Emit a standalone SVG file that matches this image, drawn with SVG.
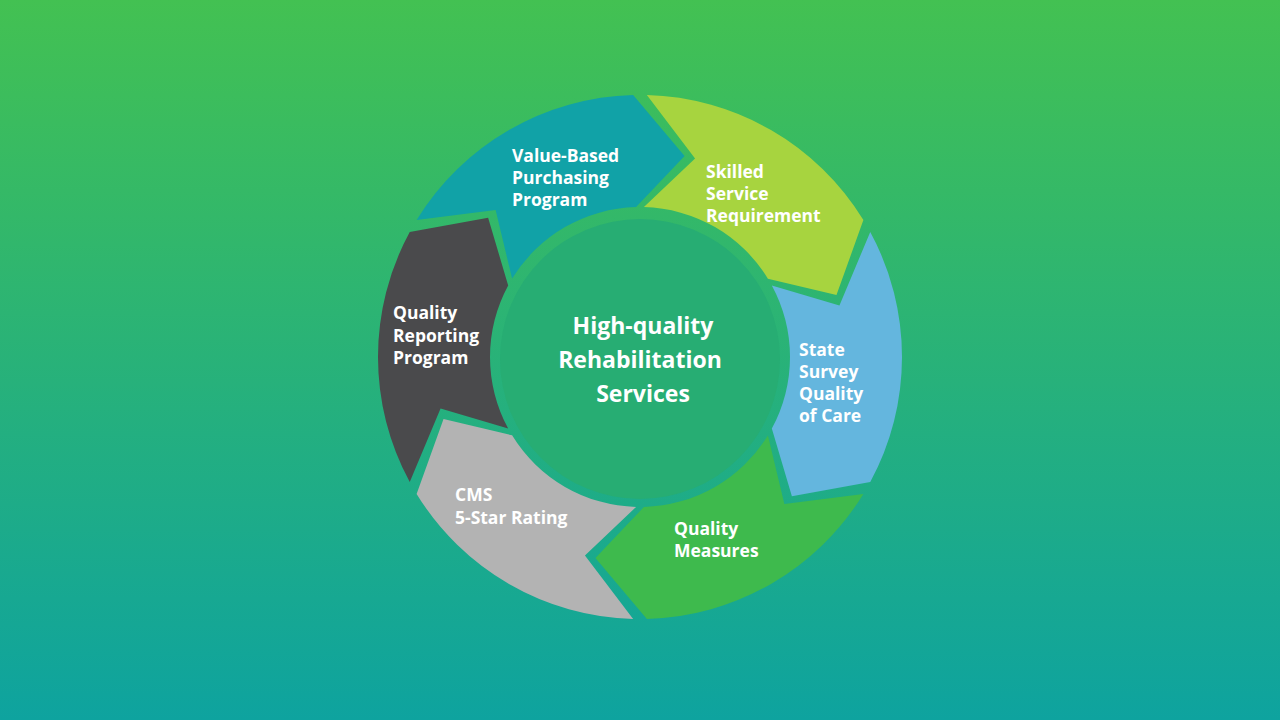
<svg xmlns="http://www.w3.org/2000/svg" width="1280" height="720" viewBox="0 0 1280 720">
<defs>
<linearGradient id="bg" x1="0" y1="0" x2="0" y2="1">
<stop offset="0" stop-color="#43c152"/>
<stop offset="1" stop-color="#0ea39f"/>
</linearGradient>
<path id="seg" d="M 6.86 -261.91 A 262 262 0 0 1 223.39 -136.90 L 196.47 -61.95 L 127.90 -78.37 A 150 150 0 0 0 3.93 -149.95 L 55.05 -198.51 Z"/>
</defs>
<style>
.lbl{font-family:"Open Sans","Liberation Sans",sans-serif;font-weight:700;font-size:17.5px;fill:#ffffff}
.ctr{font-family:"Open Sans","Liberation Sans",sans-serif;font-weight:700;font-size:23px;fill:#ffffff;text-anchor:middle}
</style>
<rect width="1280" height="720" fill="url(#bg)"/>
<g id="connectors"></g>
<g id="skilled">
<use href="#seg" transform="translate(640,357) rotate(0)" fill="#a7d43f"/>
<text class="lbl" x="706" y="178">Skilled</text><text class="lbl" x="706" y="200">Service</text><text class="lbl" x="706" y="222">Requirement</text>
</g>
<g id="state">
<use href="#seg" transform="translate(640,357) rotate(60)" fill="#64b6de"/>
<text class="lbl" x="799" y="356">State</text><text class="lbl" x="799" y="378">Survey</text><text class="lbl" x="799" y="400">Quality</text><text class="lbl" x="799" y="422">of Care</text>
</g>
<g id="measures">
<use href="#seg" transform="translate(640,357) rotate(120)" fill="#3eba4d"/>
<text class="lbl" x="674" y="535">Quality</text><text class="lbl" x="674" y="557">Measures</text>
</g>
<g id="cms">
<use href="#seg" transform="translate(640,357) rotate(180)" fill="#b3b3b3"/>
<text class="lbl" x="455" y="501">CMS</text><text class="lbl" x="455" y="524">5-Star Rating</text>
</g>
<g id="reporting">
<use href="#seg" transform="translate(640,357) rotate(240)" fill="#4a4a4c"/>
<text class="lbl" x="393" y="319">Quality</text><text class="lbl" x="393" y="342">Reporting</text><text class="lbl" x="393" y="364">Program</text>
</g>
<g id="value">
<use href="#seg" transform="translate(640,357) rotate(300)" fill="#11a2a7"/>
<text class="lbl" x="512" y="162">Value-Based</text><text class="lbl" x="512" y="184">Purchasing</text><text class="lbl" x="512" y="206">Program</text>
</g>
<g id="center">
<circle cx="640" cy="359" r="140" fill="#27ad73"/>
<text class="ctr" x="643" y="334">High-quality</text><text class="ctr" x="640" y="368">Rehabilitation</text><text class="ctr" x="643" y="402">Services</text>
</g>
</svg>
